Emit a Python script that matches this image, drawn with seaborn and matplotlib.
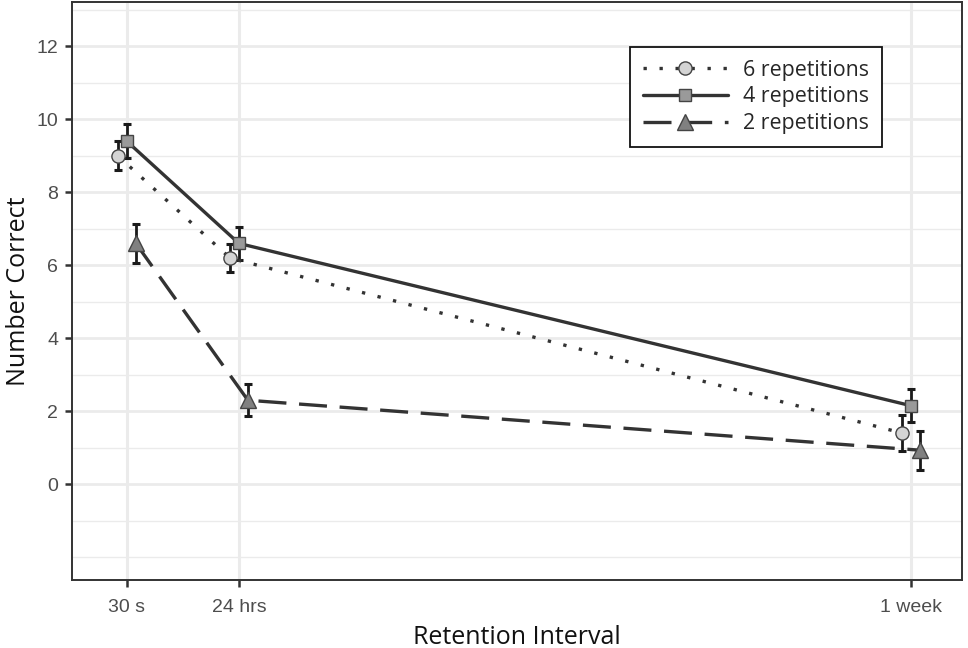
import matplotlib
matplotlib.use("Agg")
from matplotlib import pyplot as plt
import numpy as np
import pandas as pd
import seaborn as sns

# retention interval in days (30 s ~ 0, 24 hrs = 1, 1 week = 7)
interval_days = [0, 1, 7]
interval_labels = ["30 s", "24 hrs", "1 week"]

groups = ["6 repetitions", "4 repetitions", "2 repetitions"]
mean_6 = [9.0, 6.2, 1.4]
mean_4 = [9.4, 6.6, 2.15]
mean_2 = [6.6, 2.3, 0.93]
err_6 = [0.40, 0.38, 0.50]
err_4 = [0.47, 0.45, 0.45]
err_2 = [0.53, 0.44, 0.54]

rows = []
for g, m, e in zip(groups, [mean_6, mean_4, mean_2], [err_6, err_4, err_2]):
    for d, mv, ev in zip(interval_days, m, e):
        rows.append({"group": g, "days": d, "correct": mv, "err": ev})
df = pd.DataFrame(rows)

sns.set_style("whitegrid")
plt.rcParams["font.family"] = ["Open Sans", "DejaVu Sans"]

fig = plt.figure(figsize=(9.68, 6.48), dpi=100)
ax = fig.add_axes([0.0744, 0.1049, 0.9194, 0.892])

dodge = {"6 repetitions": -0.08, "4 repetitions": 0.0, "2 repetitions": 0.08}
styles = {
    "6 repetitions": dict(linestyle=(0, (1, 3.8)), marker="o", markerfacecolor="#d4d4d4", markersize=9.5),
    "4 repetitions": dict(linestyle="-", marker="s", markerfacecolor="#9a9a9a", markersize=9),
    "2 repetitions": dict(linestyle=(0, (8.4, 3.8)), marker="^", markerfacecolor="#808080", markersize=11.5),
}
line_col = "#333333"

for g in groups:
    sub = df[df.group == g]
    xs = sub.days + dodge[g]
    ax.errorbar(xs, sub.correct, yerr=sub.err, fmt="none", ecolor="#1a1a1a",
                elinewidth=2.0, capsize=2.9, capthick=2.2, zorder=3)
    sns.lineplot(x=xs, y=sub.correct, ax=ax, color=line_col, linewidth=2.4,
                 markeredgecolor="#444444", markeredgewidth=1.0, label=g,
                 zorder=4, **styles[g])

ax.set_xlim(-0.49, 7.455)
ax.set_ylim(-2.63, 13.22)
ax.set_xticks(interval_days)
ax.set_xticklabels(interval_labels)
ax.set_yticks(range(0, 13, 2))
ax.set_yticks([-2, -1, 1, 3, 5, 7, 9, 11, 13], minor=True)

ax.grid(False)
ax.grid(which="major", axis="y", color="#ebebeb", linewidth=2.0)
ax.grid(which="minor", axis="y", color="#ebebeb", linewidth=1.0)
ax.grid(which="major", axis="x", color="#ebebeb", linewidth=2.2)
ax.set_axisbelow(True)

for s in ax.spines.values():
    s.set_color("#333333")
    s.set_linewidth(1.4)

ax.tick_params(which="major", length=5, width=1.8, color="#333333",
               labelsize=14, labelcolor="#4d4d4d", left=True, bottom=True, pad=5)
ax.tick_params(axis="x", which="major", pad=9)
ax.tick_params(which="minor", length=0)
for lab in ax.get_xticklabels() + ax.get_yticklabels():
    lab.set_family(["Liberation Sans", "DejaVu Sans"])

ax.set_xlabel("Retention Interval", fontsize=18, color="#111111", labelpad=6)
ax.set_ylabel("Number Correct", fontsize=18, color="#111111", labelpad=4)

leg = ax.legend(loc="upper right", bbox_to_anchor=(0.91, 0.922), borderaxespad=0,
                fontsize=15.4, handlelength=4.0, handletextpad=0.7, frameon=True,
                fancybox=False, borderpad=0.6, labelspacing=0.26)
leg.get_frame().set_edgecolor("#111111")
leg.get_frame().set_linewidth(1.3)
leg.get_frame().set_alpha(1)

fig.savefig("out.png", dpi=100)
